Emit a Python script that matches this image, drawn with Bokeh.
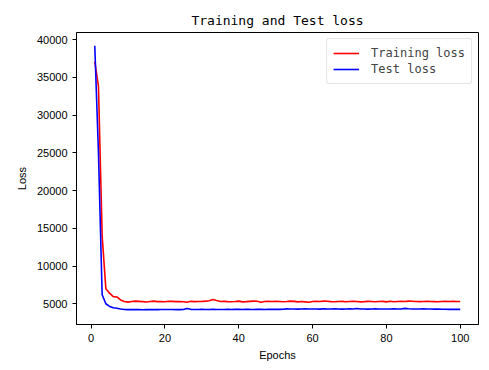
from bokeh.plotting import figure
from bokeh.embed import file_html
from bokeh.resources import INLINE
from bokeh.models import FixedTicker, Range1d

epochs = list(range(1, 101))
train_loss = [
    37100, 33800, 14000, 7000, 6400, 5950, 5900, 5500, 5300, 5220,
    5300, 5350, 5320, 5280, 5230, 5300, 5350, 5280, 5300, 5260,
    5330, 5320, 5280, 5300, 5260, 5200, 5320, 5280, 5300, 5320,
    5350, 5400, 5550, 5420, 5300, 5320, 5280, 5260, 5300, 5350,
    5250, 5280, 5320, 5350, 5330, 5200, 5300, 5330, 5300, 5310,
    5300, 5260, 5300, 5350, 5320, 5250, 5300, 5250, 5200, 5300,
    5320, 5300, 5350, 5330, 5280, 5260, 5300, 5320, 5260, 5300,
    5330, 5300, 5250, 5280, 5320, 5300, 5260, 5300, 5320, 5250,
    5340, 5260, 5300, 5310, 5290, 5350, 5330, 5300, 5280, 5300,
    5320, 5300, 5280, 5260, 5300, 5330, 5300, 5310, 5300, 5300,
]
test_loss = [
    39200, 25000, 6200, 5000, 4650, 4480, 4400, 4300, 4230, 4220,
    4220, 4220, 4220, 4210, 4220, 4220, 4230, 4220, 4230, 4230,
    4240, 4230, 4220, 4220, 4240, 4380, 4260, 4240, 4230, 4250,
    4240, 4230, 4250, 4240, 4240, 4230, 4250, 4240, 4260, 4250,
    4240, 4280, 4250, 4240, 4250, 4260, 4240, 4270, 4250, 4260,
    4250, 4270, 4320, 4310, 4300, 4290, 4310, 4320, 4300, 4300,
    4300, 4290, 4330, 4310, 4300, 4320, 4300, 4290, 4310, 4320,
    4300, 4360, 4300, 4310, 4290, 4300, 4320, 4310, 4300, 4300,
    4310, 4340, 4300, 4310, 4390, 4330, 4300, 4310, 4300, 4320,
    4300, 4310, 4290, 4300, 4280, 4270, 4260, 4260, 4250, 4250,
]
x_ticks = [0, 20, 40, 60, 80, 100]
y_ticks = [5000, 10000, 15000, 20000, 25000, 30000, 35000, 40000]

mono = "DejaVu Sans Mono"
sans = "Liberation Sans"

p = figure(width=485, height=363, output_backend="svg", toolbar_location=None,
           title="Training and Test loss",
           x_range=Range1d(-3.95, 104.95), y_range=Range1d(2250, 40950),
           min_border_left=76, min_border_right=7, min_border_top=32,
           min_border_bottom=36)

p.line(epochs, train_loss, color="red", line_width=1.6, legend_label="Training loss")
p.line(epochs, test_loss, color="blue", line_width=1.6, legend_label="Test loss")

p.title.align = "center"
p.title.text_font = mono
p.title.text_font_size = "13px"
p.title.text_font_style = "normal"
p.title.text_color = "black"
p.title.offset = 0

p.xgrid.visible = False
p.ygrid.visible = False
p.outline_line_color = "black"
p.outline_line_width = 1

p.xaxis.ticker = FixedTicker(ticks=x_ticks)
p.yaxis.ticker = FixedTicker(ticks=y_ticks)
p.xaxis.axis_label = "Epochs"
p.yaxis.axis_label = "Loss"
for ax in (p.xaxis, p.yaxis):
    ax.axis_label_text_font = sans
    ax.axis_label_text_font_style = "normal"
    ax.axis_label_text_font_size = "11px"
    ax.axis_label_text_color = "black"
    ax.major_label_text_font = sans
    ax.major_label_text_font_size = "11px"
    ax.major_label_text_color = "black"
    ax.minor_tick_line_color = None
    ax.major_tick_in = 0
    ax.major_tick_out = 4
    ax.axis_line_color = "black"
    ax.major_tick_line_color = "black"
p.yaxis.major_label_orientation = 0
p.xaxis.axis_label_standoff = 4
p.yaxis.axis_label_standoff = 6

p.legend.location = "top_right"
p.legend.label_text_font = mono
p.legend.label_text_font_size = "12px"
p.legend.border_line_color = "#cccccc"
p.legend.border_radius = 3
p.legend.background_fill_alpha = 0.8
p.legend.spacing = 0
p.legend.padding = 6
p.legend.margin = 6
p.legend.glyph_width = 26
p.legend.label_standoff = 12
p.legend.label_height = 16
p.legend.glyph_height = 16

open("out.html", "w").write(file_html(p, INLINE))
